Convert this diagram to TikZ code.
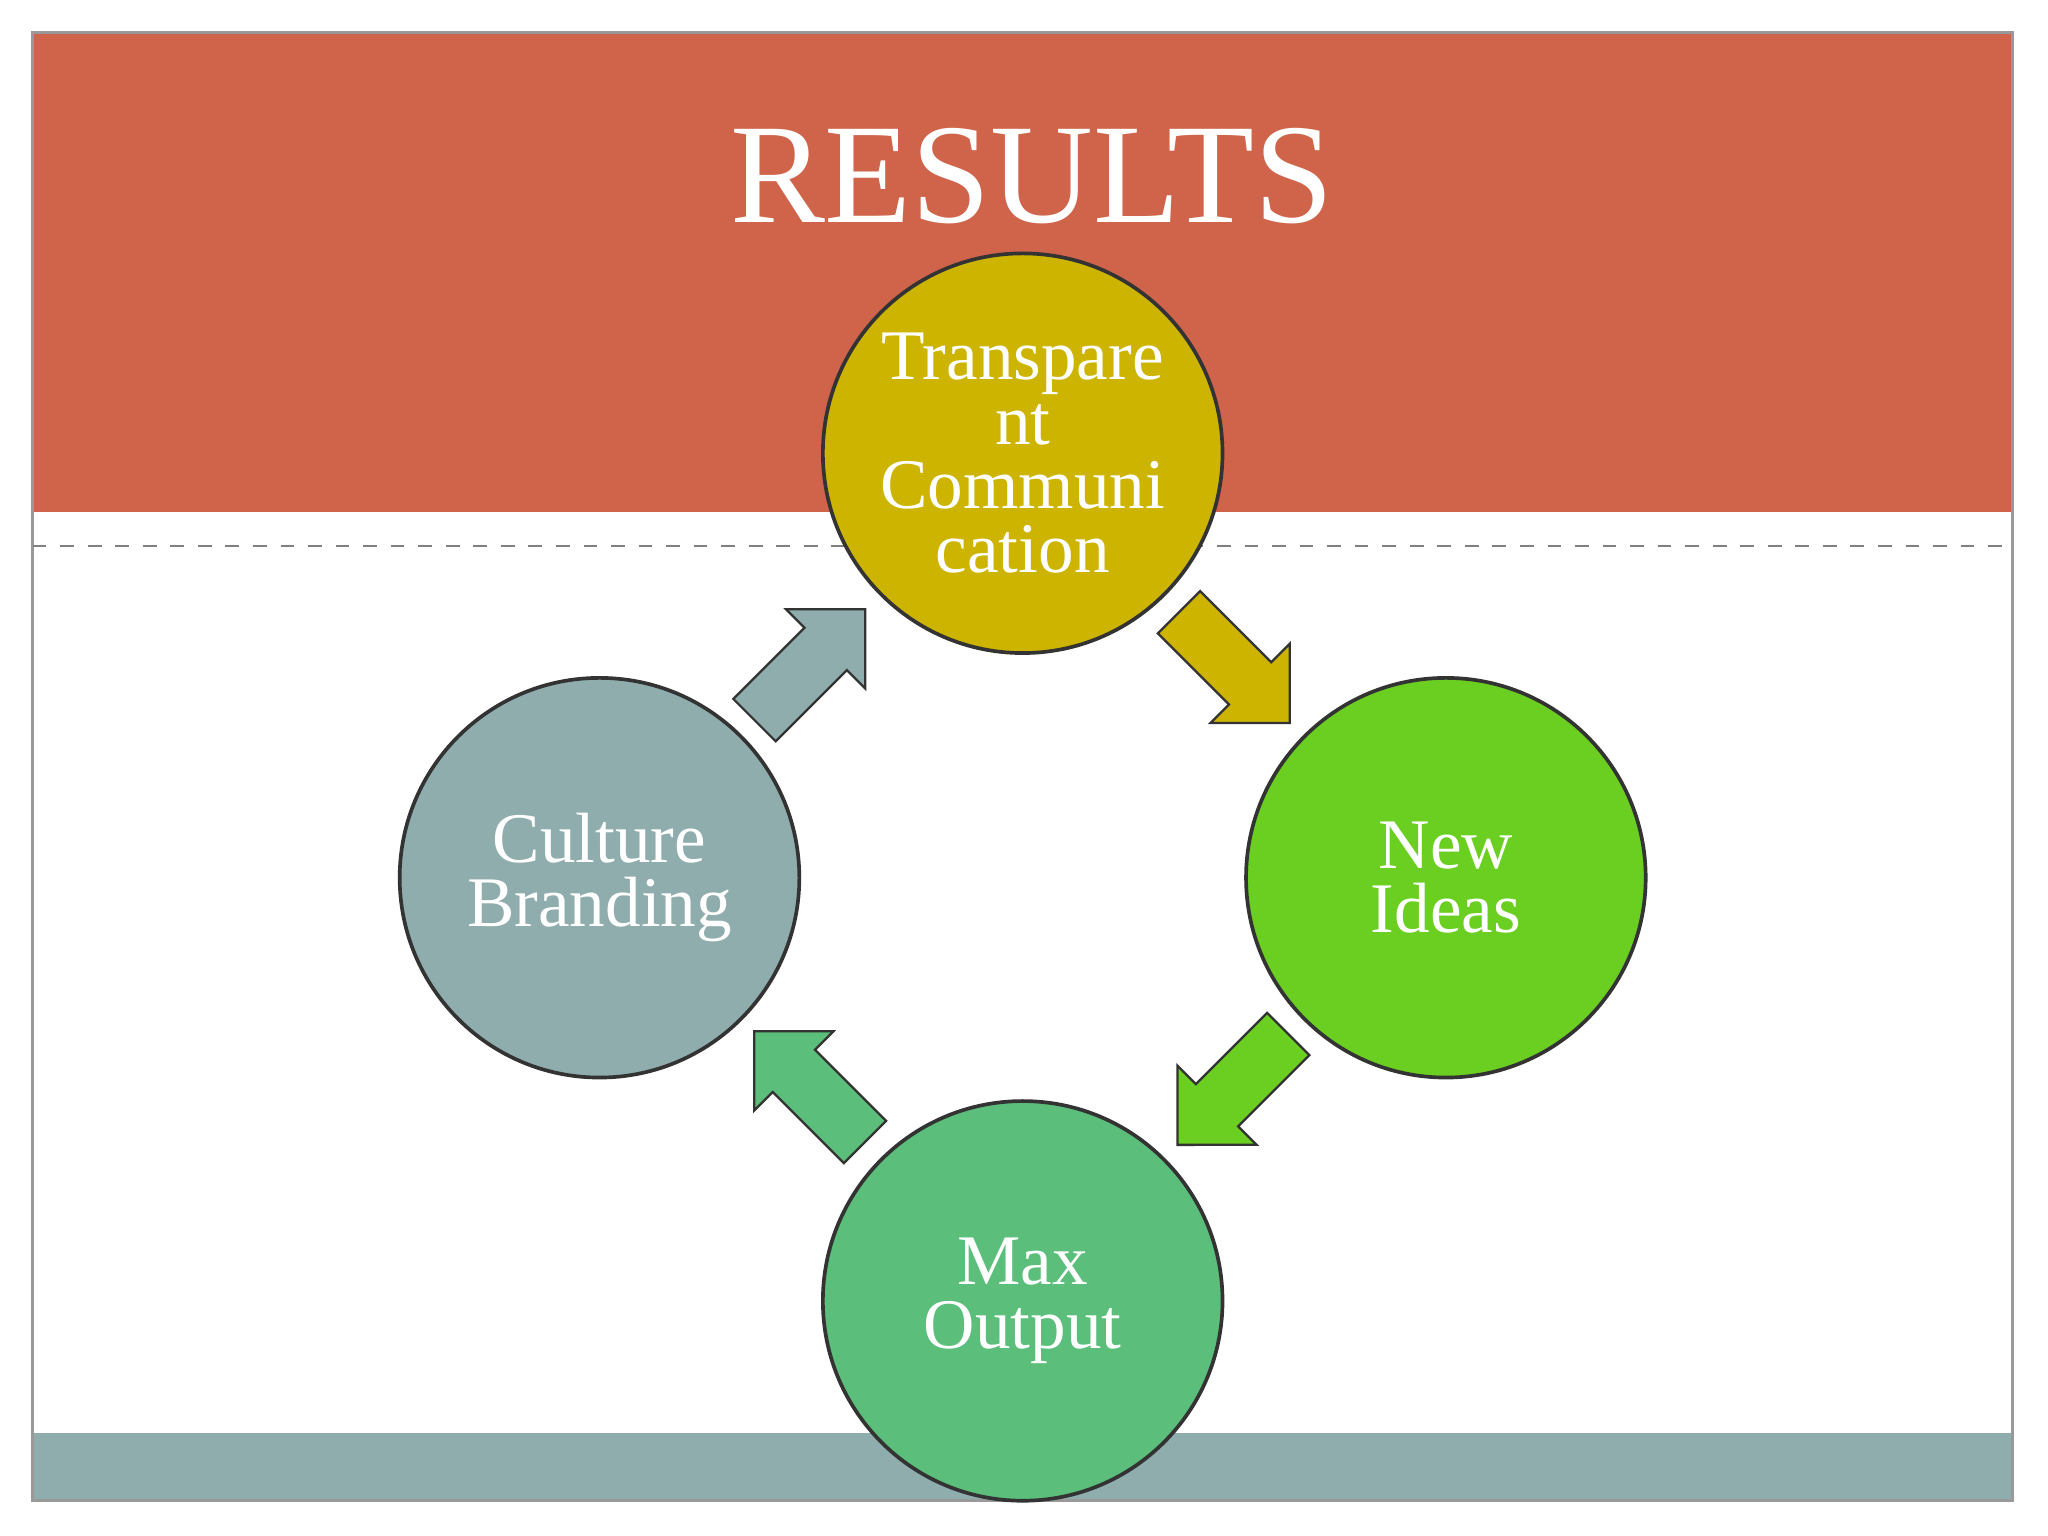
\documentclass[tikz,border=0pt]{standalone}
\usepackage{fontspec}
\setmainfont{Liberation Serif}
\usepackage{xcolor}
\usetikzlibrary{shapes.arrows}
\definecolor{band}{HTML}{D0644A}
\definecolor{gold}{HTML}{CDB400}
\definecolor{lime}{HTML}{6BCF22}
\definecolor{sea}{HTML}{5BBE7A}
\definecolor{slate}{HTML}{8FADAD}
\begin{document}
\begin{tikzpicture}[
  x=0.1mm, y=-0.1mm,
  ball/.style={circle, draw=black!80, line width=0.8pt, minimum size=3.06cm, inner sep=0pt, align=center, text=white, font=\fontsize{15.5}{14}\selectfont},
  blk/.style={single arrow, draw=black!80, line width=0.5pt, minimum height=1.2cm, inner xsep=0.25cm, inner ysep=0.22cm, single arrow head extend=0.2cm}
]
\useasboundingbox (0,0) rectangle (1568,1176);
\fill[white] (0,0) rectangle (1568,1176);
\fill[band] (25,25) rectangle (1541,392);
\fill[slate] (25,1097) rectangle (1541,1149);
\draw[gray!80, line width=0.6pt] (25,25) rectangle (1541,1149);
\draw[gray, dashed, line width=0.4pt] (25,418) -- (1541,418);
\node[text=white, font=\fontsize{31}{34}\selectfont] (title) at (790,135) {RESULTS};

\node[ball, fill=gold] (trans) at (783,347) {Transpare\\nt\\Communi\\cation};
\node[ball, fill=lime] (ideas) at (1107,672) {New\\Ideas};
\node[ball, fill=sea] (output) at (783,996) {Max\\Output};
\node[ball, fill=slate] (culture) at (459,672) {Culture\\Branding};

\node[blk, fill=slate, rotate=45] (toTrans) at (612,517) {};
\node[blk, fill=gold, rotate=-45] (toIdeas) at (937,503) {};
\node[blk, fill=lime, rotate=225] (toOutput) at (952,826) {};
\node[blk, fill=sea, rotate=135] (toCulture) at (628,840) {};
\end{tikzpicture}
\end{document}
